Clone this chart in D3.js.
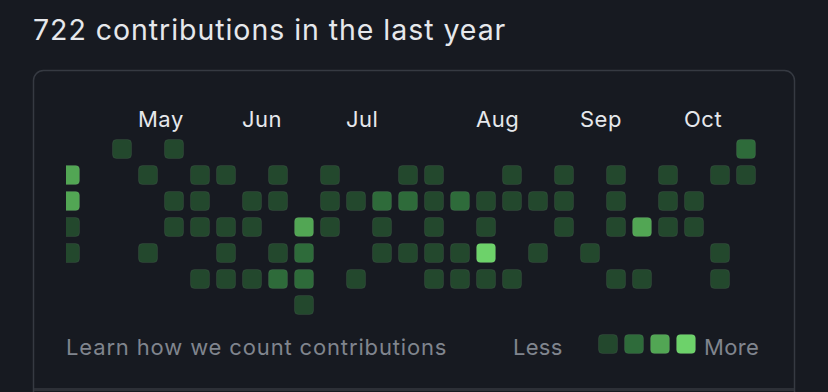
<!DOCTYPE html>
<html>
<head>
<meta charset="utf-8">
<script src="https://cdn.jsdelivr.net/npm/d3@7"></script>
<style>
  html, body { margin: 0; padding: 0; background: #171a21; }
  svg { display: block; }
  text { font-family: Inter, "Noto Sans", sans-serif; }
</style>
</head>
<body>
<svg id="chart" width="828" height="392"></svg>
<script>
// ---- data ----
const title = "722 contributions in the last year";
const weekIndex = d3.range(27);          // visible week columns (first is partly scrolled away)
const dayIndex = d3.range(7);            // Sun .. Sat
// contribution level per week (Sun..Sat), 0 = none, 1..4 = intensity
const weekLevels = [
  [0,3,3,1,1,0,0],
  [0,0,0,0,0,0,0],
  [1,0,0,0,0,0,0],
  [0,1,0,0,1,0,0],
  [1,0,1,1,0,0,0],
  [0,1,1,1,0,1,0],
  [0,1,0,1,1,1,0],
  [0,0,1,1,0,1,0],
  [0,1,1,0,1,2,0],
  [0,0,0,3,2,2,1],
  [0,1,1,1,0,0,0],
  [0,0,1,0,0,1,0],
  [0,0,2,1,1,0,0],
  [0,1,2,0,1,0,0],
  [0,1,1,1,1,1,0],
  [0,0,2,0,1,1,0],
  [0,0,1,1,4,1,0],
  [0,1,1,0,0,1,0],
  [0,0,1,0,1,0,0],
  [0,1,1,1,0,0,0],
  [0,0,0,0,1,0,0],
  [0,1,1,1,0,1,0],
  [0,0,0,3,0,1,0],
  [0,1,1,1,0,0,0],
  [0,0,1,1,0,0,0],
  [0,1,0,0,1,1,0],
  [2,1,0,0,0,0,0]
];
const monthLabels = ["May", "Jun", "Jul", "Aug", "Sep", "Oct"];
const monthWeeks  = [3, 7, 11, 16, 20, 24];
const legendLevels = [1, 2, 3, 4];
const footerText = "Learn how we count contributions";

// ---- drawing ----
const svg = d3.select("#chart");
const levelColor = d3.scaleOrdinal()
  .domain([1, 2, 3, 4])
  .range(["#23482d", "#2e6b3a", "#52a654", "#6dd26a"]);

const x = d3.scaleBand().domain(weekIndex).range([60, 756]).paddingInner(6 / 26).paddingOuter(0);
const y = d3.scaleBand().domain(dayIndex).range([139, 315]).paddingInner(6 / 26).paddingOuter(0);

// title
svg.append("text")
  .attr("x", 33).attr("y", 40)
  .attr("fill", "#e6e8ec")
  .attr("font-size", 28.5)
  .attr("letter-spacing", 0.95)
  .text(title);

// card
svg.append("line")
  .attr("x1", 33).attr("x2", 795).attr("y1", 389.5).attr("y2", 389.5)
  .attr("stroke", "#2d3037").attr("stroke-width", 3);
svg.append("rect")
  .attr("x", 33.5).attr("y", 70.5).attr("width", 761).attr("height", 360)
  .attr("rx", 10).attr("ry", 10)
  .attr("fill", "none").attr("stroke", "#363a42").attr("stroke-width", 1.5);

// clip for scrolled calendar
svg.append("defs").append("clipPath").attr("id", "gridClip")
  .append("rect").attr("x", 66).attr("y", 90).attr("width", 720).attr("height", 240);

// month labels
svg.append("g").selectAll("text")
  .data(monthLabels)
  .join("text")
  .attr("x", (d, i) => x(monthWeeks[i]))
  .attr("y", 127)
  .attr("fill", "#e6e8ec")
  .attr("font-size", 22)
  .attr("letter-spacing", 0.5)
  .text(d => d);

// cells
const cells = [];
weekLevels.forEach((w, wi) => w.forEach((lv, di) => { if (lv > 0) cells.push({ w: weekIndex[wi], d: dayIndex[di], lv }); }));

svg.append("g").attr("clip-path", "url(#gridClip)")
  .selectAll("rect")
  .data(cells)
  .join("rect")
  .attr("x", d => x(d.w) + 0.5)
  .attr("y", d => y(d.d) + 0.5)
  .attr("width", x.bandwidth() - 1)
  .attr("height", y.bandwidth() - 1)
  .attr("rx", 4).attr("ry", 4)
  .attr("fill", d => levelColor(d.lv))
  .attr("stroke", "rgba(255,255,255,0.06)")
  .attr("stroke-width", 1);

// footer
svg.append("text")
  .attr("x", 66).attr("y", 355)
  .attr("fill", "#80858e")
  .attr("font-size", 22)
  .attr("letter-spacing", 0.85)
  .text(footerText);

svg.append("text")
  .attr("x", 513).attr("y", 355)
  .attr("fill", "#80858e")
  .attr("font-size", 22)
  .attr("letter-spacing", 0.3)
  .text("Less");

const lx = d3.scaleBand().domain(legendLevels).range([598, 598 + 26 * 4 - 6]).paddingInner(6 / 26).paddingOuter(0);
svg.append("g").selectAll("rect")
  .data(legendLevels)
  .join("rect")
  .attr("x", d => lx(d) + 0.5)
  .attr("y", 334.5)
  .attr("width", lx.bandwidth() - 1)
  .attr("height", 19)
  .attr("rx", 4).attr("ry", 4)
  .attr("fill", d => levelColor(d))
  .attr("stroke", "rgba(255,255,255,0.06)");

svg.append("text")
  .attr("x", 704).attr("y", 355)
  .attr("fill", "#80858e")
  .attr("font-size", 22)
  .attr("letter-spacing", 0.3)
  .text("More");
</script>
</body>
</html>
